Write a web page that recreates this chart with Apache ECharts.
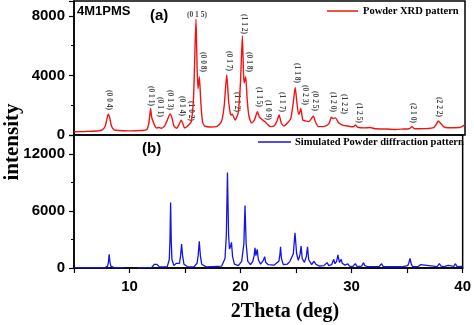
<!DOCTYPE html>
<html>
<head>
<meta charset="utf-8">
<script src="https://cdn.jsdelivr.net/npm/echarts@6/dist/echarts.min.js"></script>
<style>
  html, body { margin: 0; padding: 0; background: #fff; }
  #chart { width: 474px; height: 325px; }
</style>
</head>
<body>
<div id="chart"></div>
<script>
// measured powder XRD pattern (2Theta, intensity)
var xrdPoints = [
  [5.0, 220], [6.0, 240], [7.0, 270], [7.5, 320], [7.8, 600], [7.95, 1100], [8.06, 1390], [8.2, 1150],
  [8.35, 600], [8.6, 350], [9.0, 300], [10.0, 280], [11.0, 300], [11.5, 350], [11.7, 800], [11.86, 1790],
  [11.95, 1200], [12.09, 890], [12.25, 600], [12.4, 470], [12.6, 500], [12.8, 450], [13.1, 600], [13.35, 1000],
  [13.6, 1420], [13.75, 1200], [13.95, 600], [14.2, 450], [14.4, 700], [14.6, 1000], [14.75, 750], [14.9, 470],
  [15.1, 550], [15.3, 700], [15.5, 900], [15.7, 2500], [15.82, 5500], [15.92, 7790], [16.02, 4500], [16.1, 3100],
  [16.22, 3920], [16.35, 2200], [16.5, 900], [16.7, 600], [17.2, 540], [17.8, 580], [18.2, 900], [18.45, 2000],
  [18.67, 4030], [18.85, 2200], [19.0, 1400], [19.06, 1340], [19.17, 1400], [19.42, 1000], [19.7, 1500], [19.9, 3500],
  [20.07, 6650], [20.18, 4000], [20.25, 3500], [20.37, 3920], [20.5, 2400], [20.65, 1300], [20.9, 800], [21.15, 1000],
  [21.42, 1560], [21.6, 1200], [21.9, 1000], [22.1, 890], [22.35, 700], [22.6, 560], [22.9, 600], [23.15, 900],
  [23.36, 1340], [23.55, 800], [23.8, 600], [24.1, 800], [24.4, 1100], [24.6, 2000], [24.8, 3200], [24.95, 2200],
  [25.1, 1400], [25.2, 1500], [25.3, 1790], [25.48, 1000], [25.7, 950], [26.0, 900], [26.25, 1100], [26.44, 1280],
  [26.6, 900], [26.9, 560], [27.5, 600], [27.85, 800], [28.03, 1190], [28.2, 1100], [28.4, 1150], [28.7, 800],
  [29.1, 650], [29.5, 600], [30.0, 550], [30.2, 670], [30.4, 520], [31.0, 480], [31.5, 500], [32.0, 420],
  [33.0, 400], [33.8, 370], [34.5, 400], [35.0, 420], [35.26, 560], [35.5, 420], [36.5, 430], [37.2, 500],
  [37.45, 750], [37.6, 940], [37.8, 800], [38.1, 550], [38.5, 490], [39.0, 490], [39.5, 500], [39.8, 600], [40.0, 720]
];

// simulated powder pattern (gap between 9.55 and 10.75)
var simPoints = [
  [5.0, 30], [7.8, 40], [8.02, 200], [8.1, 600], [8.17, 1440], [8.24, 600], [8.32, 200], [8.6, 50], [9.55, 30],
  [10.1, null],
  [10.75, 30], [12.0, 60], [12.15, 200], [12.24, 390], [12.33, 250], [12.4, 330], [12.45, 390], [12.52, 200],
  [12.7, 120], [12.85, 200], [12.9, 240], [12.98, 120], [13.4, 150], [13.58, 900], [13.64, 2800], [13.7, 6900],
  [13.76, 2800], [13.82, 900], [14.0, 250], [14.12, 350], [14.2, 490], [14.3, 300], [14.5, 500], [14.6, 1300],
  [14.69, 2520], [14.78, 1300], [14.9, 400], [15.2, 150], [15.8, 120], [16.08, 500], [16.18, 1300], [16.28, 2800],
  [16.38, 1300], [16.5, 400], [16.9, 120], [17.2, 150], [17.33, 315], [17.45, 150], [18.3, 200], [18.6, 1000],
  [18.72, 3500], [18.82, 10050], [18.92, 3500], [19.0, 2000], [19.1, 2300], [19.18, 2700], [19.28, 1200], [19.45, 400],
  [19.62, 300], [19.8, 250], [20.1, 700], [20.3, 2600], [20.4, 6580], [20.5, 2600], [20.65, 700], [20.9, 350],
  [21.1, 700], [21.22, 1300], [21.3, 2130], [21.38, 1300], [21.44, 1500], [21.5, 1960], [21.6, 900], [21.8, 400],
  [22.05, 800], [22.17, 1190], [22.26, 600], [22.3, 660], [22.38, 770], [22.5, 350], [23.0, 300], [23.45, 700],
  [23.55, 1500], [23.6, 2240], [23.68, 1000], [23.85, 350], [24.2, 400], [24.45, 700], [24.55, 770], [24.75, 1500],
  [24.9, 3710], [25.05, 1500], [25.2, 800], [25.35, 1400], [25.45, 2310], [25.55, 1000], [25.75, 600], [25.92, 1200],
  [26.03, 2240], [26.13, 900], [26.4, 350], [26.6, 700], [26.68, 910], [26.78, 400], [27.1, 200], [27.5, 250],
  [27.79, 560], [27.95, 250], [28.2, 350], [28.39, 910], [28.5, 450], [28.65, 700], [28.77, 1370], [28.9, 600],
  [29.07, 910], [29.15, 500], [29.28, 660], [29.4, 300], [29.67, 450], [29.8, 200], [30.1, 150], [30.33, 450],
  [30.5, 150], [30.9, 200], [31.08, 560], [31.18, 250], [31.28, 450], [31.4, 180], [32.0, 150], [32.5, 180],
  [32.7, 450], [32.85, 150], [33.2, 130], [33.38, 280], [33.5, 130], [34.5, 130], [35.05, 250], [35.15, 500],
  [35.26, 1020], [35.37, 400], [35.5, 150], [36.0, 150], [36.2, 350], [36.35, 150], [37.7, 150], [37.9, 450],
  [38.05, 200], [38.2, 350], [38.35, 150], [38.7, 280], [38.85, 140], [39.2, 180], [39.35, 450], [39.5, 150], [40.0, 160]
];

// Miller index labels: name, 2Theta of label, label centre height
var hklNames = ['(0 0 4)', '(0 1 1)', '(0 1 1)', '(0 1 3)', '(0 1 4)', '(1 0 2)', '(0 1 5)', '(0 0 8)',
  '(0 1 7)', '(1 1 2)', '(1 1 2)', '(0 1 8)', '(1 1 5)', '(1 0 9)', '(1 1 7)', '(1 1 8)', '(0 2 3)',
  '(0 2 5)', '(1 2 0)', '(1 2 2)', '(1 2 5)', '(2 1 0)', '(2 2 2)'];
var hklTheta = [8.14, 11.86, 12.69, 13.59, 14.66, 15.44, 16.0, 16.52, 18.88, 19.57, 20.25, 20.67, 21.54,
  22.33, 23.6, 25.0, 25.7, 26.6, 28.14, 29.13, 30.48, 35.35, 37.71];
var hklHeight = [2350, 2620, 1880, 2350, 1950, 1610, 8060, 4900, 4970, 2220, 7455, 4900, 2550,
  1680, 2220, 4160, 2690, 2280, 2220, 2080, 1480, 1480, 1880];
var hklUpright = ['(0 1 5)'];

var xTicksShown = [10, 20, 30, 40];

var chart = echarts.init(document.getElementById('chart'));

var hklData = hklNames.map(function (n, i) {
  var item = { value: [hklTheta[i], hklHeight[i]], name: n };
  if (hklUpright.indexOf(n) >= 0) item.label = { rotate: 0 };
  return item;
});

var sansFont = 'Liberation Sans, Arial, sans-serif';
var serifBold = 'Liberation Serif, Times New Roman, serif';

var yAxisCommon = {
  type: 'value',
  axisLine: { show: true, lineStyle: { color: '#000', width: 1.5 } },
  axisTick: { show: true, length: 5, lineStyle: { color: '#000', width: 1.2 } },
  minorTick: { show: true, splitNumber: 2, length: 3, lineStyle: { color: '#000', width: 1 } },
  splitLine: { show: false },
  axisLabel: {
    color: '#000', fontSize: 15, fontFamily: sansFont, fontWeight: 'bold', margin: 9,
    showMaxLabel: false,
    formatter: function (v) { return String(v); }
  }
};

var option = {
  animation: false,
  backgroundColor: '#fff',
  grid: [
    { left: 74, top: 1, width: 391, height: 134, show: true, borderColor: '#000', borderWidth: 1.5 },
    { left: 74, top: 135, width: 391, height: 133, show: true, borderColor: '#000', borderWidth: 1.5 }
  ],
  xAxis: [
    {
      gridIndex: 0, type: 'value', min: 5, max: 40,
      axisLine: { show: false }, axisTick: { show: false }, axisLabel: { show: false }, splitLine: { show: false }
    },
    {
      gridIndex: 1, type: 'value', min: 5, max: 40, interval: 5,
      axisLine: { show: true, lineStyle: { color: '#000', width: 1.5 } },
      axisTick: { show: true, length: 5, lineStyle: { color: '#000', width: 1.2 } },
      splitLine: { show: false },
      axisLabel: {
        color: '#000', fontSize: 15, fontFamily: sansFont, fontWeight: 'bold', margin: 11,
        formatter: function (v) { return xTicksShown.indexOf(v) >= 0 ? String(v) : ''; }
      }
    }
  ],
  yAxis: [
    Object.assign({}, yAxisCommon, { gridIndex: 0, min: 0, max: 9000, interval: 4000 }),
    Object.assign({}, yAxisCommon, { gridIndex: 1, min: 0, max: 14000, interval: 6000 })
  ],
  series: [
    {
      name: 'Powder XRD pattern', type: 'line', xAxisIndex: 0, yAxisIndex: 0,
      data: xrdPoints, showSymbol: false, smooth: 0.2,
      lineStyle: { color: '#f01414', width: 1.4 }
    },
    {
      name: 'Simulated Powder diffraction pattern', type: 'line', xAxisIndex: 1, yAxisIndex: 1,
      data: simPoints, showSymbol: false, connectNulls: false,
      lineStyle: { color: '#1414e6', width: 1.3 }
    },
    {
      name: 'hkl', type: 'scatter', xAxisIndex: 0, yAxisIndex: 0,
      data: hklData, symbolSize: 0, silent: true,
      label: {
        show: true, position: 'inside', rotate: -90,
        formatter: function (p) { return p.name; },
        color: '#111', fontSize: 7.5, fontFamily: serifBold, fontWeight: 'bold'
      }
    }
  ],
  graphic: [
    { type: 'text', left: 77, top: 5, style: { text: '4M1PMS', fill: '#000', font: 'bold 13px ' + sansFont } },
    { type: 'text', left: 150, top: 8, style: { text: '(a)', fill: '#000', font: 'bold 15px ' + sansFont } },
    { type: 'text', left: 142, top: 141, style: { text: '(b)', fill: '#000', font: 'bold 15px ' + sansFont } },
    { type: 'line', shape: { x1: 327, y1: 11, x2: 358, y2: 11 }, style: { stroke: '#f01414', lineWidth: 1.5 } },
    { type: 'text', left: 363, top: 6, style: { text: 'Powder XRD pattern', fill: '#000', font: 'bold 10.5px ' + serifBold } },
    { type: 'line', shape: { x1: 258, y1: 142, x2: 291, y2: 142 }, style: { stroke: '#1414e6', lineWidth: 1.5 } },
    { type: 'text', left: 295, top: 137, style: { text: 'Simulated Powder diffraction pattern', fill: '#000', font: 'bold 10.5px ' + serifBold } },
    {
      type: 'text', x: 13, y: 142, rotation: Math.PI / 2,
      style: { text: 'intensity', fill: '#000', font: 'bold 21px ' + serifBold, align: 'center', verticalAlign: 'middle' }
    },
    {
      type: 'text', x: 285, y: 312,
      style: { text: '2Theta (deg)', fill: '#000', font: 'bold 20px ' + serifBold, align: 'center', verticalAlign: 'middle' }
    }
  ]
};

chart.setOption(option);
</script>
</body>
</html>
